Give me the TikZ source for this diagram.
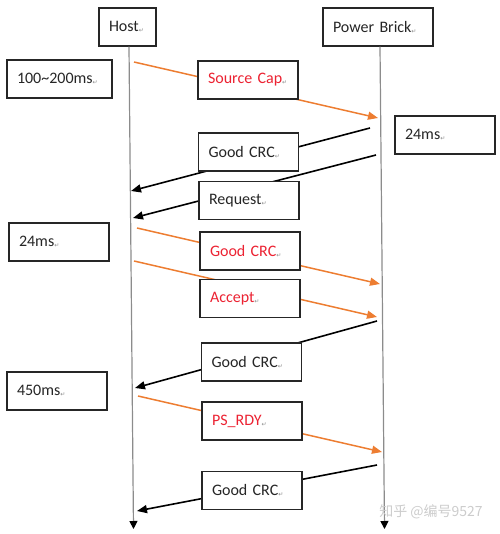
\documentclass[tikz,border=0pt]{standalone}
\usepackage{fontspec}
\setmainfont{Carlito}
\newfontfamily\markfont{DejaVu Sans}
\newfontfamily\cjkfont{Noto Sans CJK SC}
\usetikzlibrary{arrows.meta}
\definecolor{brickorange}{RGB}{237,125,49}
\definecolor{msgred}{RGB}{236,34,50}
\definecolor{boxgray}{RGB}{38,38,38}
\definecolor{lifegray}{RGB}{140,140,140}
\newcommand{\retmark}{{\markfont\fontsize{6}{6}\selectfont\color{lifegray}\raisebox{-1pt}{↵}}}

\begin{document}
\begin{tikzpicture}[x=1pt, y=-1pt,
	tbox/.style={draw=boxgray, line width=1.3pt, fill=white, minimum height=38pt,
		inner xsep=10pt, text width=#1, align=left, text=boxgray,
		font=\fontsize{16}{19}\selectfont},
	tbox/.default=80pt,
	life/.style={draw=lifegray, line width=1.2pt, -{Triangle[black,length=8pt,width=8pt]}},
	tohost/.style={draw=black, line width=1.6pt, -{Triangle[length=10pt,width=8pt]}},
	tobrick/.style={draw=brickorange, line width=1.5pt, -{Triangle[length=10pt,width=8pt]}}]
	\useasboundingbox (0,0) rectangle (499,534);

	% the two parties and their lifelines
	\node[tbox=37pt] (host) at (127.5,27) {Host\retmark};
	\node[tbox=90pt] (brick) at (378,27) {Power Brick\retmark};
	\coordinate (hostend) at (133.5,529);
	\coordinate (brickend) at (384.5,529);
	\draw[life] ([xshift=1.5pt]host.south) -- (hostend);
	\draw[life] ([xshift=2pt]brick.south) -- (brickend);

	% message ends on the lifelines
	\coordinate (srccap-a) at (134,62);   \coordinate (srccap-b) at (378,118);
	\coordinate (crcA-a)   at (370,128);  \coordinate (crcA-b)   at (131,191);
	\coordinate (req-a)    at (376,155);  \coordinate (req-b)    at (133,218);
	\coordinate (crcB-a)   at (137,228);  \coordinate (crcB-b)   at (380,284);
	\coordinate (accept-a) at (134,261);  \coordinate (accept-b) at (377,317);
	\coordinate (crcC-a)   at (377,321);  \coordinate (crcC-b)   at (135,388);
	\coordinate (psrdy-a)  at (138,396);  \coordinate (psrdy-b)  at (382,452);
	\coordinate (crcD-a)   at (377,465);  \coordinate (crcD-b)   at (137,511);

	\draw[tobrick] (srccap-a) -- (srccap-b);
	\draw[tohost]  (crcA-a) -- (crcA-b);
	\draw[tohost]  (req-a) -- (req-b);
	\draw[tobrick] (crcB-a) -- (crcB-b);
	\draw[tobrick] (accept-a) -- (accept-b);
	\draw[tohost]  (crcC-a) -- (crcC-b);
	\draw[tobrick] (psrdy-a) -- (psrdy-b);
	\draw[tohost]  (crcD-a) -- (crcD-b);

	% message labels
	\node[tbox, text=msgred] (srccap) at (248,80) {Source Cap\retmark};
	\node[tbox] (crcA) at (248.5,152) {Good CRC\retmark};
	\node[tbox] (req) at (249,200.5) {Request\retmark};
	\node[tbox, text=msgred] (crcB) at (250,251) {Good CRC\retmark};
	\node[tbox, text=msgred] (accept) at (250,298.5) {Accept\retmark};
	\node[tbox] (crcC) at (251.5,362) {Good CRC\retmark};
	\node[tbox, text=msgred] (psrdy) at (252,421) {PS\_RDY\retmark};
	\node[tbox] (crcD) at (252,490.5) {Good CRC\retmark};

	% timing boxes
	\node[tbox=85pt] (wait1) at (59.5,79) {100\textasciitilde200ms\retmark};
	\node[tbox] (wait2) at (445,135) {24ms\retmark};
	\node[tbox] (wait3) at (59,242) {24ms\retmark};
	\node[tbox] (wait4) at (57,391) {450ms\retmark};

	\node[text=gray!40, font=\cjkfont\fontsize{14}{14}\selectfont] (mark) at (431,512) {知乎 @编号9527};
\end{tikzpicture}
\end{document}
